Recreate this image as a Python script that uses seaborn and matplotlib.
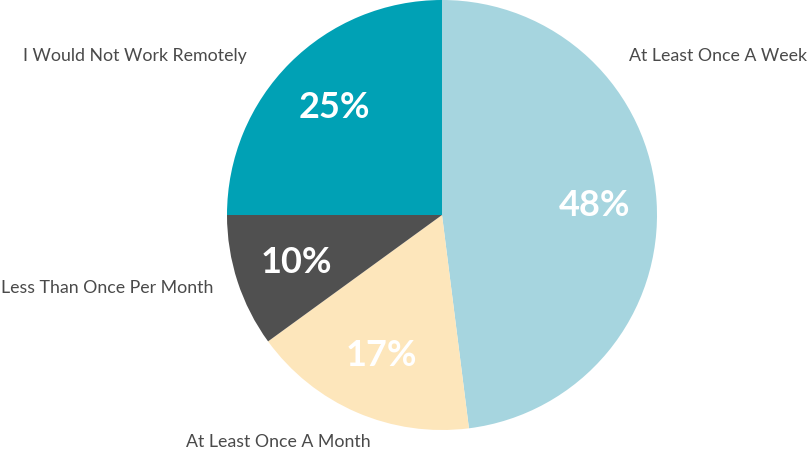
import matplotlib
matplotlib.use("Agg")
import matplotlib.pyplot as plt
import seaborn as sns

# data
labels = ["At Least Once A Week", "At Least Once A Month",
          "Less Than Once Per Month", "I Would Not Work Remotely"]
shares = [48, 17, 10, 25]
colors = ["#a6d5df", "#fde6bb", "#505050", "#00a1b5"]

sns.set_theme(style="white")
plt.rcParams["font.family"] = ["Lato", "DejaVu Sans"]

fig = plt.figure(figsize=(8.09, 4.55), dpi=100)
ax = fig.add_axes([227 / 809, 25 / 455, 430 / 809, 430 / 455])

wedges, _, pcts = ax.pie(shares, colors=colors, startangle=90, counterclock=False,
                         autopct="%d%%", pctdistance=0.71,
                         wedgeprops=dict(linewidth=0),
                         textprops=dict(color="white", fontsize=26, fontweight="bold"))
ax.set_aspect("equal")
ax.set_xlim(-1, 1)
ax.set_ylim(-1, 1)
ax.axis("off")

# category names sit outside the pie
txt = dict(fontsize=12.8, color="#4a4a4a", va="center")
fig.text(807 / 809, 1 - 56 / 455, labels[0], ha="right", **txt)
fig.text(186 / 809, 1 - 442 / 455, labels[1], ha="left", **txt)
fig.text(1 / 809, 1 - 288 / 455, labels[2], ha="left", **txt)
fig.text(23 / 809, 1 - 56 / 455, labels[3], ha="left", **txt)

fig.savefig("out.png", dpi=100, facecolor="white")
